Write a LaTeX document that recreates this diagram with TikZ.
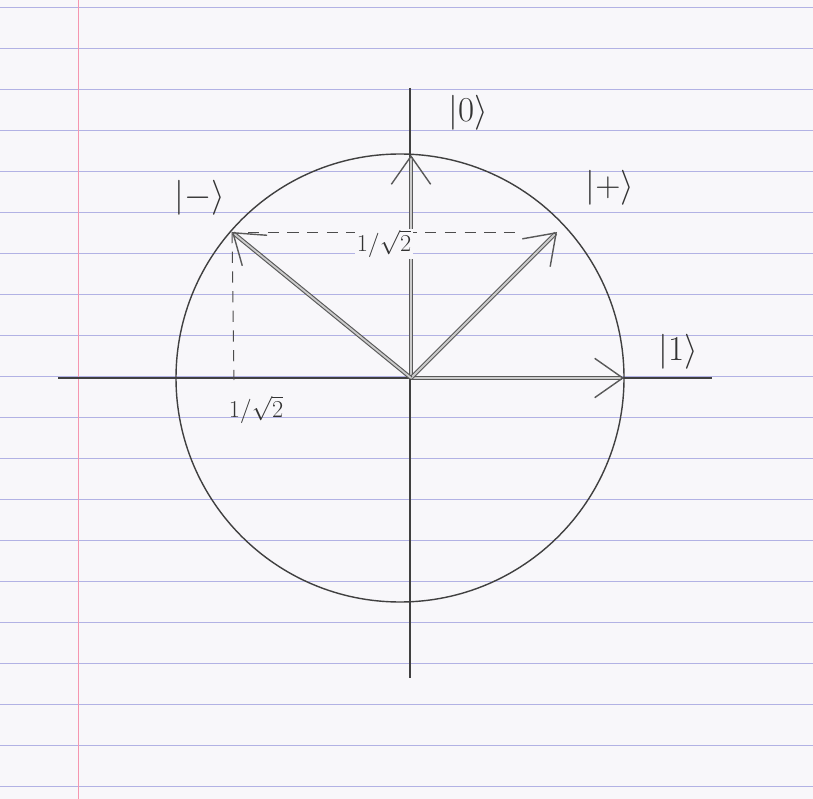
\documentclass[tikz,border=0pt]{standalone}
\usepackage{amsmath}
\usepackage{amssymb}
\usetikzlibrary{arrows.meta}
\definecolor{ruleline}{RGB}{178,178,228}
\definecolor{margin}{RGB}{245,150,175}
\definecolor{paper}{RGB}{248,247,250}
\tikzset{
  vec/.style={draw=black!65, line width=0.8pt, double=black!20, double distance=1.3pt,
    -{Straight Barb[length=20pt,width=28pt,line width=1pt]}},
  axis/.style={draw=black!75, line width=0.9pt},
  guide/.style={draw=black!70, line width=0.7pt, dash pattern=on 8pt off 6pt},
  ket/.style={font=\fontsize{27}{30}\selectfont, text=black!80},
  val/.style={font=\LARGE, text=black!80}
}

\begin{document}
\begin{tikzpicture}[x=0.025cm,y=-0.025cm]
            \useasboundingbox (0,0) rectangle (813,799);
            \fill[paper] (0,0) rectangle (813,799);
            % ruled paper
            \foreach \y in {7,48,...,799}
                \draw[ruleline, line width=0.6pt] (0,\y) -- (813,\y);
            \draw[margin, line width=0.6pt] (78,0) -- (78,799);
            % axes and circle
            \coordinate (O) at (411,378);
            \draw[axis] (58,378) -- (712,378);
            \draw[axis] (410,88) -- (410,678);
            \draw[black!75, line width=1pt] (400,378) circle (224);
            % states
            \coordinate (ket0) at (411,155);
            \coordinate (ket1) at (624,378);
            \coordinate (plus) at (557,232);
            \coordinate (minus) at (232,232);
            \coordinate (foot) at (234,380);
            \draw[guide] (minus) -- (foot);
            \draw[guide] (248,232) -- (515,232);
            \draw[vec] (O) -- (ket0);
            \draw[vec] (O) -- (ket1);
            \draw[vec] (O) -- (plus);
            \draw[vec] (O) -- (minus);
            \node[ket] (l0) at (468,113) {$|0\rangle$};
            \node[ket] (l1) at (678,352) {$|1\rangle$};
            \node[ket] (lp) at (610,188) {$|+\rangle$};
            \node[ket] (lm) at (200,198) {$|-\rangle$};
            \node[val, fill=paper, inner sep=1pt] (vy) at (384,244) {$1/\sqrt{2}$};
            \node[val] (vx) at (256,410) {$1/\sqrt{2}$};
        \end{tikzpicture}
\end{document}
